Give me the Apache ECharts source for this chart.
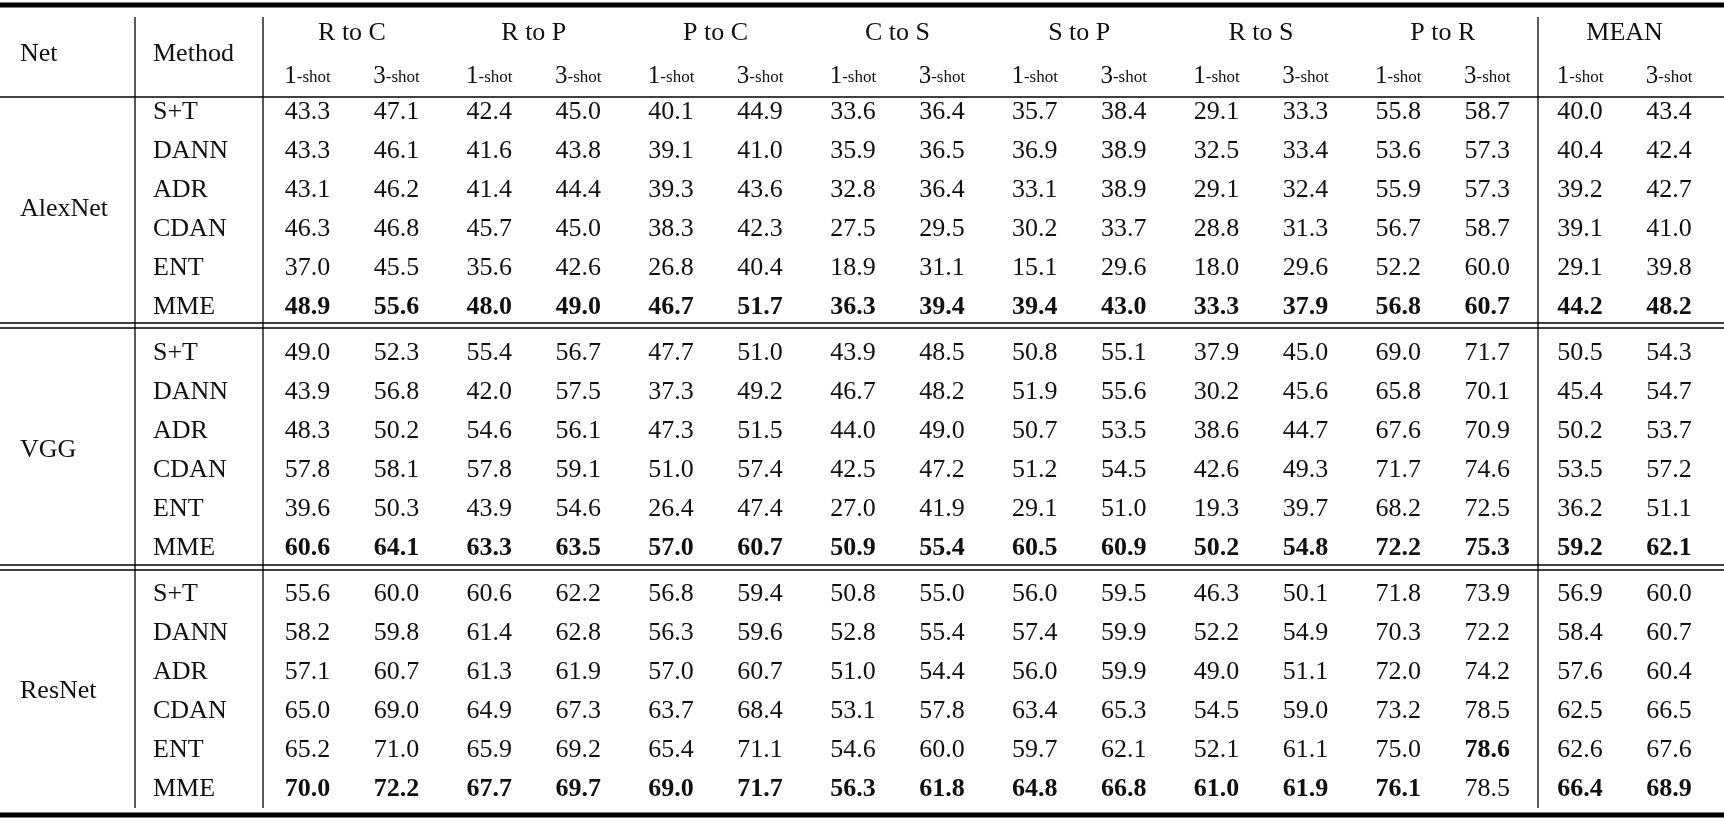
<!DOCTYPE html>
<html><head><meta charset="utf-8">
<script src="https://cdn.jsdelivr.net/npm/echarts@6/dist/echarts.min.js"></script>
<style>html,body{margin:0;padding:0;background:#fff}#c{width:1724px;height:821px}</style>
</head><body><div id="c"></div>
<script>
const nets = ["AlexNet", "VGG", "ResNet"];
const methods = ["S+T", "DANN", "ADR", "CDAN", "ENT", "MME"];
const transfers = ["R to C", "R to P", "P to C", "C to S", "S to P", "R to S", "P to R", "MEAN"];
const shots = ["1", "3"];
const alexnet = [
[43.3,47.1,42.4,45.0,40.1,44.9,33.6,36.4,35.7,38.4,29.1,33.3,55.8,58.7,40.0,43.4],
[43.3,46.1,41.6,43.8,39.1,41.0,35.9,36.5,36.9,38.9,32.5,33.4,53.6,57.3,40.4,42.4],
[43.1,46.2,41.4,44.4,39.3,43.6,32.8,36.4,33.1,38.9,29.1,32.4,55.9,57.3,39.2,42.7],
[46.3,46.8,45.7,45.0,38.3,42.3,27.5,29.5,30.2,33.7,28.8,31.3,56.7,58.7,39.1,41.0],
[37.0,45.5,35.6,42.6,26.8,40.4,18.9,31.1,15.1,29.6,18.0,29.6,52.2,60.0,29.1,39.8],
[48.9,55.6,48.0,49.0,46.7,51.7,36.3,39.4,39.4,43.0,33.3,37.9,56.8,60.7,44.2,48.2]];
const vgg = [
[49.0,52.3,55.4,56.7,47.7,51.0,43.9,48.5,50.8,55.1,37.9,45.0,69.0,71.7,50.5,54.3],
[43.9,56.8,42.0,57.5,37.3,49.2,46.7,48.2,51.9,55.6,30.2,45.6,65.8,70.1,45.4,54.7],
[48.3,50.2,54.6,56.1,47.3,51.5,44.0,49.0,50.7,53.5,38.6,44.7,67.6,70.9,50.2,53.7],
[57.8,58.1,57.8,59.1,51.0,57.4,42.5,47.2,51.2,54.5,42.6,49.3,71.7,74.6,53.5,57.2],
[39.6,50.3,43.9,54.6,26.4,47.4,27.0,41.9,29.1,51.0,19.3,39.7,68.2,72.5,36.2,51.1],
[60.6,64.1,63.3,63.5,57.0,60.7,50.9,55.4,60.5,60.9,50.2,54.8,72.2,75.3,59.2,62.1]];
const resnet = [
[55.6,60.0,60.6,62.2,56.8,59.4,50.8,55.0,56.0,59.5,46.3,50.1,71.8,73.9,56.9,60.0],
[58.2,59.8,61.4,62.8,56.3,59.6,52.8,55.4,57.4,59.9,52.2,54.9,70.3,72.2,58.4,60.7],
[57.1,60.7,61.3,61.9,57.0,60.7,51.0,54.4,56.0,59.9,49.0,51.1,72.0,74.2,57.6,60.4],
[65.0,69.0,64.9,67.3,63.7,68.4,53.1,57.8,63.4,65.3,54.5,59.0,73.2,78.5,62.5,66.5],
[65.2,71.0,65.9,69.2,65.4,71.1,54.6,60.0,59.7,62.1,52.1,61.1,75.0,78.6,62.6,67.6],
[70.0,72.2,67.7,69.7,69.0,71.7,56.3,61.8,64.8,66.8,61.0,61.9,76.1,78.5,66.4,68.9]];
// bold cells: [net, row, col]; MME row bold except listed exceptions
const boldExtra = [[2,4,13]];
const boldExclude = [[2,5,13]];

const tables = [alexnet, vgg, resnet];
const FONT = '"Liberation Serif","DejaVu Serif",serif';
const g = [];
const xPair0 = 352, pairW = 181.8, half = 44.5;
const rowY0 = 112, rowH = 39.0, groupH = 241;
function txt(x, y, s, opt) {
  g.push({type:'text', x:x, y:y, style:Object.assign({text:s, fill:'#111', font:'26px '+FONT, textAlign:'center', textVerticalAlign:'middle'}, opt||{})});
}
function line(x1,y1,x2,y2,w){ g.push({type:'line', shape:{x1,y1,x2,y2}, style:{stroke:'#000', lineWidth:w}}); }
// header
txt(20, 54, 'Net', {textAlign:'left'});
txt(153, 54, 'Method', {textAlign:'left'});
transfers.forEach((t,i)=>{
  const cx = xPair0 + i*pairW;
  txt(cx, 33, t);
  shots.forEach((s,j)=>{
    g.push({type:'text', x: cx + (j?half:-half), y:76, style:{
      text:'{a|'+s+'}{b|-shot}', textAlign:'center', textVerticalAlign:'middle', fill:'#111',
      rich:{a:{font:'25px '+FONT, fill:'#111'}, b:{font:'17px '+FONT, fill:'#111', padding:[4,0,0,0]}}}});
  });
});
function isBold(n,r,c){
  if (boldExclude.some(b=>b[0]===n&&b[1]===r&&b[2]===c)) return false;
  if (boldExtra.some(b=>b[0]===n&&b[1]===r&&b[2]===c)) return true;
  return methods[r]==='MME';
}
tables.forEach((tb,n)=>{
  const y0 = rowY0 + n*groupH;
  txt(20, y0 + 2.5*rowH, nets[n], {textAlign:'left'});
  tb.forEach((row,r)=>{
    const y = y0 + r*rowH;
    txt(153, y, methods[r], {textAlign:'left'});
    row.forEach((v,c)=>{
      const cx = xPair0 + Math.floor(c/2)*pairW + (c%2?half:-half);
      txt(cx, y, v.toFixed(1), {font:(isBold(n,r,c)?'bold ':'')+'26px '+FONT});
    });
  });
});
// rules
line(0,5,1724,5,5);
line(0,97,1724,97,1.5);
line(0,323,1724,323,1.5); line(0,328,1724,328,1.5);
line(0,565,1724,565,1.5); line(0,570,1724,570,1.5);
line(0,815,1724,815,5);
[135,263,1538].forEach(x=>line(x,17,x,808,1.3));

const chart = echarts.init(document.getElementById('c'));
chart.setOption({backgroundColor:'#fff', graphic:{elements:g}});
</script></body></html>
